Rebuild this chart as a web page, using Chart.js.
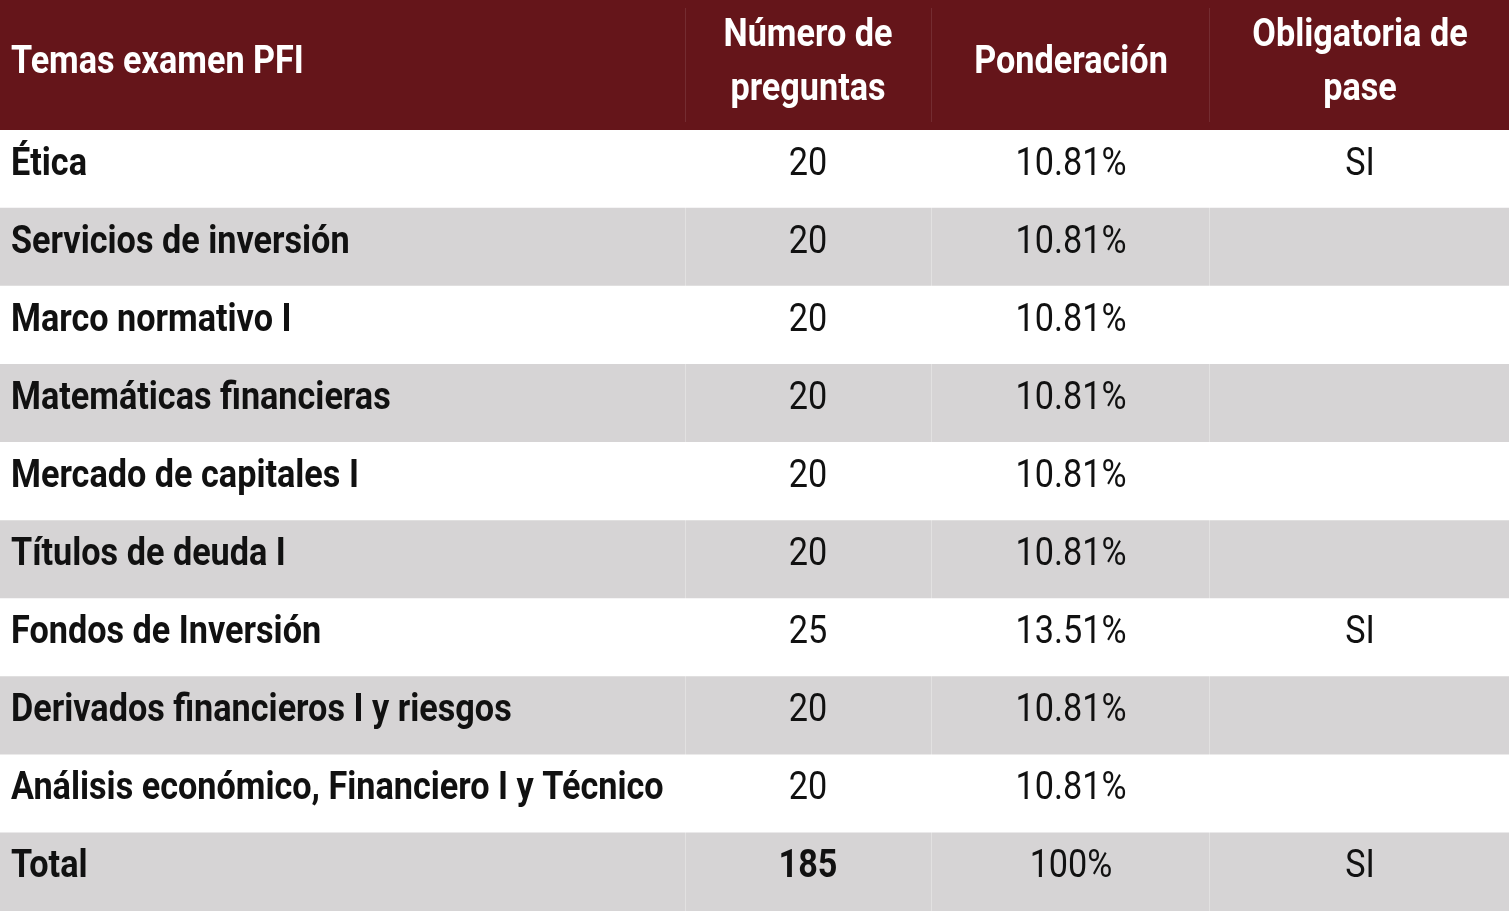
<!DOCTYPE html>
<html>
<head>
<meta charset="utf-8">
<script src="https://cdn.jsdelivr.net/npm/chart.js@4"></script>
<style>
  html, body { margin: 0; padding: 0; background: #fff; }
  canvas { display: block; }
</style>
</head>
<body>
<canvas id="tabla" width="1509" height="911"></canvas>
<script>
const headers = ["Temas examen PFI", "Número de\npreguntas", "Ponderación", "Obligatoria de\npase"];
const temas = ["Ética", "Servicios de inversión", "Marco normativo I", "Matemáticas financieras",
    "Mercado de capitales I", "Títulos de deuda I", "Fondos de Inversión",
    "Derivados financieros I y riesgos", "Análisis económico, Financiero I y Técnico", "Total"];
const preguntas = ["20", "20", "20", "20", "20", "20", "25", "20", "20", "185"];
const ponderacion = ["10.81%", "10.81%", "10.81%", "10.81%", "10.81%", "10.81%", "13.51%", "10.81%", "10.81%", "100%"];
const obligatoria = ["SI", "", "", "", "", "", "SI", "", "", "SI"];

const HEADER_H = 130;
const RED = "#65151a";
const GRAY = "#d6d4d5";
const SX = 0.9;
const colCenters = [0, 808 / 1509, 1071 / 1509, 1360 / 1509];
const colLines = [685 / 1509, 931 / 1509, 1209 / 1509];

function condensed(ctx, text, x, y, font, color, align) {
    ctx.save();
    ctx.font = font;
    ctx.fillStyle = color;
    ctx.textBaseline = "middle";
    const w = ctx.measureText(text).width * SX;
    let x0 = x;
    if (align === "center") x0 = x - w / 2;
    ctx.translate(x0, y);
    ctx.scale(SX, 1);
    ctx.textAlign = "left";
    ctx.fillText(text, 0, 0);
    ctx.restore();
}

const tablePlugin = {
    id: "tablePlugin",
    afterDatasetsDraw(chart) {
        const ctx = chart.ctx;
        const xs = chart.scales.x;
        const ys = chart.scales.y;
        const W = chart.width;

        // header
        ctx.fillStyle = RED;
        ctx.fillRect(0, 0, W, HEADER_H);
        const hFont = "bold 38px Roboto";
        headers.forEach((h, c) => {
            const lines = h.split("\n");
            const x = c === 0 ? 11 : xs.getPixelForValue(colCenters[c]);
            lines.forEach((ln, i) => {
                const y = HEADER_H / 2 - 2 + (i - (lines.length - 1) / 2) * 54;
                condensed(ctx, ln, x, y, hFont, "#ffffff", c === 0 ? "left" : "center");
            });
        });

        // column separators
        colLines.forEach((f) => {
            const x = Math.round(xs.getPixelForValue(f)) + 0.5;
            ctx.strokeStyle = "rgba(255,255,255,0.10)";
            ctx.beginPath(); ctx.moveTo(x, 8); ctx.lineTo(x, HEADER_H - 8); ctx.stroke();
            ctx.strokeStyle = "rgba(255,255,255,0.3)";
            ctx.beginPath(); ctx.moveTo(x, HEADER_H); ctx.lineTo(x, chart.height); ctx.stroke();
        });

        // rows
        temas.forEach((t, i) => {
            const y = ys.getPixelForValue(i) - 4;
            const total = i === temas.length - 1;
            condensed(ctx, t, 11, y, "bold 38px Roboto", "#111", "left");
            condensed(ctx, preguntas[i], xs.getPixelForValue(colCenters[1]), y,
                (total ? "bold " : "") + "38px Roboto", "#111", "center");
            condensed(ctx, ponderacion[i], xs.getPixelForValue(colCenters[2]), y, "38px Roboto", "#111", "center");
            if (obligatoria[i]) {
                condensed(ctx, obligatoria[i], xs.getPixelForValue(colCenters[3]), y, "38px Roboto", "#111", "center");
            }
        });
    }
};

new Chart(document.getElementById("tabla").getContext("2d"), {
    type: "bar",
    data: {
        labels: temas,
        datasets: [{
            data: temas.map(() => [0, 1]),
            backgroundColor: temas.map((t, i) => (i % 2 === 0 ? "#ffffff" : GRAY)),
            borderWidth: 0,
            barPercentage: 1,
            categoryPercentage: 1
        }]
    },
    options: {
        indexAxis: "y",
        responsive: false,
        animation: false,
        devicePixelRatio: 1,
        layout: { padding: { top: HEADER_H, left: 0, right: 0, bottom: 0 } },
        scales: {
            x: { type: "linear", min: 0, max: 1, display: false },
            y: { display: false }
        },
        plugins: { legend: { display: false }, tooltip: { enabled: false } }
    },
    plugins: [tablePlugin]
});
</script>
</body>
</html>
